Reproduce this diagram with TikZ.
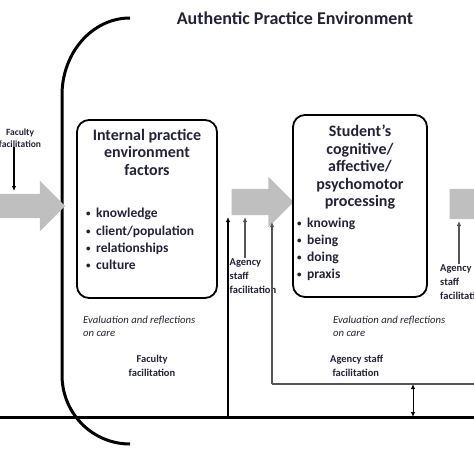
\documentclass[tikz,border=0pt]{standalone}
\usepackage{fontspec}
\setmainfont{Carlito}
\usepackage{xcolor}
\usetikzlibrary{positioning, arrows.meta, shapes.arrows}
\definecolor{txt}{RGB}{35, 35, 55}
\definecolor{flow}{RGB}{191, 191, 191}
\definecolor{rule}{RGB}{85, 85, 85}
\newcommand{\dotitem}{\makebox[10pt][l]{\raisebox{1pt}{\fontsize{9}{9}\selectfont\textbullet}}}

\begin{document}
\begin{tikzpicture}[
    x=1pt, y=-1pt,
    framebox/.style={
        draw,
        line width=1.8pt,
        rounded corners=12pt,
        minimum width=#1
    },
    flowarrow/.style={
        single arrow,
        fill=flow,
        draw=none,
        inner sep=0pt,
        inner ysep=13pt,
        single arrow head extend=12pt,
        minimum width=0pt,
        minimum height=#1
    },
    hdr/.style={font=\fontsize{16}{17.4}\selectfont\bfseries, text=txt, align=center, inner sep=0pt},
    bul/.style={font=\fontsize{13.5}{17.2}\selectfont\bfseries, text=txt, align=left, inner sep=0pt},
    note/.style={font=\fontsize{10.5}{14}\selectfont\bfseries, text=txt, align=left, inner sep=0pt},
    evl/.style={font=\fontsize{10.7}{13}\selectfont\itshape, text=txt, align=left, inner sep=0pt},
    uparrow/.style={-{Latex[length=5pt,width=4.5pt]}, line width=1.2pt}
]
\useasboundingbox (0,0) rectangle (474,474);

% === Authentic practice environment ===
\node[font=\fontsize{18}{20}\selectfont\bfseries, text=txt] (env) at (295,18) {Authentic Practice Environment};
\draw[line width=3pt] (130,18) .. controls (92,18) and (62,53) .. (62,95)
    -- (62,375) .. controls (62,413) and (92,444) .. (130,444);

% === Faculty facilitation (left) ===
\node[note, align=center, font=\fontsize{9.5}{11.5}\selectfont\bfseries] (facleft) at (20,138) {Faculty\\facilitation};
\node[flowarrow=69pt, inner ysep=12pt, single arrow head extend=13pt] (arrowleft) at (24.5,206) {};
\coordinate (fl) at (14,191);

% === Internal practice environment factors ===
\node[framebox=140pt, minimum height=178pt] (box1) at (147,209) {};
\node[hdr, below=10pt of box1.north] (box1hdr) {Internal practice\\environment\\factors};
\node[bul, anchor=west] (box1list) at (86,239) {\dotitem knowledge\\\dotitem client/population\\\dotitem relationships\\\dotitem culture};
\node[evl, anchor=west] (evalleft) at (83,326) {Evaluation and reflections\\on care};
\node[note, align=center] (facbot) at (152,366) {Faculty\\facilitation};

% === Middle arrow ===
\node[flowarrow=62pt] (arrowmid) at (256,202) {};
\node[note, anchor=west] (agmid) at (229.5,276) {Agency\\staff\\facilitation};
\coordinate (m1) at (228,217);
\coordinate (m2) at (245,217);
\coordinate (m3) at (272,222);

% === Student's processing ===
\node[framebox=134pt, minimum height=182pt] (box2) at (360,206) {};
\node[hdr, below=11pt of box2.north] (box2hdr) {Student's\\cognitive/\\affective/\\psychomotor\\processing};
\node[bul, anchor=west] (box2list) at (297,249.5) {\dotitem knowing\\\dotitem being\\\dotitem doing\\\dotitem praxis};
\node[evl, anchor=west] (evalright) at (333,326) {Evaluation and reflections\\on care};
\node[note, anchor=west] (agbot) at (330,366) {Agency staff\\\ facilitation};

% === Right arrow ===
\node[flowarrow=58pt, inner ysep=15pt, single arrow head extend=11pt] (arrowright) at (471,204) {};
\node[note, anchor=west] (agright) at (440,282) {Agency\\staff\\facilitation};
\coordinate (r1) at (459,221);

% === Base lines ===
\coordinate (b0) at (0,417);
\coordinate (b1) at (474,417);
\coordinate (g1) at (228,417);
\coordinate (c1) at (272,384);
\coordinate (c2) at (474,384);
\coordinate (d1) at (413,384);
\coordinate (d2) at (413,417);

\draw[line width=3pt] (b0) -- (b1);
\draw[rule, line width=1.3pt] (c1) -- (c2);

% === Arrows ===
\draw[uparrow] (facleft.south -| fl) -- (fl);
\draw[uparrow, line width=2pt] (g1) -- (m1);
\draw[uparrow, draw=rule] (agmid.north -| m2) -- (m2);
\draw[uparrow, draw=rule] (c1) -- (m3);
\draw[uparrow, draw=rule] (agright.north -| r1) -- (r1);
\draw[{Latex[length=5pt,width=4.5pt]}-{Latex[length=5pt,width=4.5pt]}, line width=1pt] (d1) -- (d2);

\end{tikzpicture}
\end{document}
